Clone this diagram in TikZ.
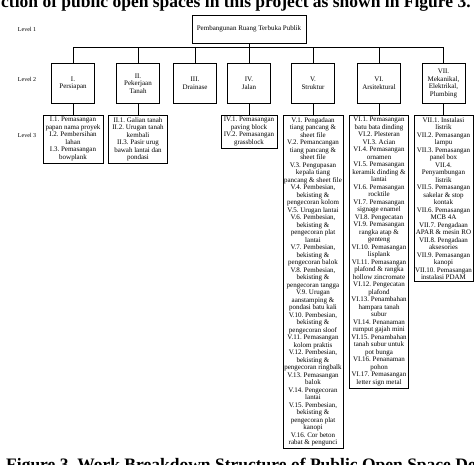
\documentclass[tikz,border=0pt]{standalone}
\usepackage{fontspec}
\setmainfont{Liberation Serif}
\frenchspacing
\begin{document}
\begin{tikzpicture}[x=1pt,y=-1pt,
  box/.style={draw, line width=0.6pt, align=center, inner xsep=1pt, inner ysep=2pt,
    font=\fontsize{7}{7.5}\selectfont\frenchspacing},
  lvtwo/.style={box, minimum width=43pt, minimum height=40pt, anchor=north},
  lvthree/.style={box, anchor=north},
  lvlabel/.style={font=\fontsize{6}{7}\selectfont},
  conn/.style={line width=0.6pt},
  bigtext/.style={font=\fontsize{17.5}{19}\selectfont\bfseries, anchor=base west, inner sep=0pt}]
\useasboundingbox (0,0) rectangle (474,465);
\clip (0,0) rectangle (474,465);
\fill[white] (0,0) rectangle (474,465);

\node[bigtext] (toptext) at (1,8) {ction of public open spaces in this project as shown in Figure 3.};
\node[bigtext] (caption) at (6,470) {Figure 3. Work Breakdown Structure of Public Open Space Development};

\node[lvlabel] (lv1) at (27,29) {Level 1};
\node[lvlabel] (lv2) at (27,79) {Level 2};
\node[lvlabel] (lv3) at (27,135) {Level 3};

\node[box, minimum width=114pt, minimum height=28pt, anchor=north] (root) at (249,15) {Pembangunan Ruang Terbuka Publik};
\coordinate (bus) at (249,47);

\node[lvtwo] (a) at (73,63) {I.\\Persiapan};
\node[lvtwo] (b) at (138,63) {II.\\Pekerjaan\\Tanah};
\node[lvtwo] (c) at (195,63) {III.\\Drainase};
\node[lvtwo] (d) at (249,63) {IV.\\Jalan};
\node[lvtwo] (e) at (313,63) {V.\\Struktur};
\node[lvtwo] (f) at (379,63) {VI.\\Arsitektural};
\node[lvtwo] (g) at (443.5,63) {VII.\\Mekanikal,\\Elektrikal,\\Plumbing};

\node[lvthree, minimum width=60pt] (a3) at (73,115) {I.1. Pemasangan\\papan nama proyek\\I.2. Pembersihan\\lahan\\I.3. Pemasangan\\bowplank};
\node[lvthree, minimum width=59pt] (b3) at (138,115) {II.1. Galian tanah\\II.2. Urugan tanah\\kembali\\II.3. Pasir urug\\bawah lantai dan\\pondasi};
\node[lvthree, minimum width=56pt] (d3) at (249,115) {IV.1. Pemasangan\\paving block\\IV.2. Pemasangan\\grassblock};
\node[lvthree, minimum width=59pt] (e3) at (313,115) {V.1. Pengadaan\\tiang pancang \&\\sheet file\\V.2. Pemancangan\\tiang pancang \&\\sheet file\\V.3. Pengupasan\\kepala tiang\\pancang \& sheet file\\V.4. Pembesian,\\bekisting \&\\pengecoran kolom\\V.5. Urugan lantai\\V.6. Pembesian,\\bekisting \&\\pengecoran plat\\lantai\\V.7. Pembesian,\\bekisting \&\\pengecoran balok\\V.8. Pembesian,\\bekisting \&\\pengecoran tangga\\V.9. Urugan\\aanstamping \&\\pondasi batu kali\\V.10. Pembesian,\\bekisting \&\\pengecoran sloof\\V.11. Pemasangan\\kolom praktis\\V.12. Pembesian,\\bekisting \&\\pengecoran ringbalk\\V.13. Pemasangan\\balok\\V.14. Pengecoran\\lantai\\V.15. Pembesian,\\bekisting \&\\pengecoran plat\\kanopi\\V.16. Cor beton\\rabat \& pengunci};
\node[lvthree, minimum width=59pt] (f3) at (379,115) {VI.1. Pemasangan\\batu bata dinding\\VI.2. Plesteran\\VI.3. Acian\\VI.4. Pemasangan\\ornamen\\VI.5. Pemasangan\\keramik dinding \&\\lantai\\VI.6. Pemasangan\\rocktile\\VI.7. Pemasangan\\signage enamel\\VI.8. Pengecatan\\VI.9. Pemasangan\\rangka atap \&\\genteng\\VI.10. Pemasangan\\lisplank\\VI.11. Pemasangan\\plafond \& rangka\\hollow zincromate\\VI.12. Pengecatan\\plafond\\VI.13. Penambahan\\hampara tanah\\subur\\VI.14. Penanaman\\rumput gajah mini\\VI.15. Penambahan\\tanah subur untuk\\pot bunga\\VI.16. Penanaman\\pohon\\VI.17. Pemasangan\\letter sign metal};
\node[lvthree, minimum width=57pt] (g3) at (443.5,115) {VII.1. Instalasi\\listrik\\VII.2. Pemasangan\\lampu\\VII.3. Pemasangan\\panel box\\VII.4.\\Penyambungan\\listrik\\VII.5. Pemasangan\\sakelar \& stop\\kontak\\VII.6. Pemasangan\\MCB 4A\\VII.7. Pengadaan\\APAR \& mesin RO\\VII.8. Pengadaan\\aksesories\\VII.9. Pemasangan\\kanopi\\VII.10. Pemasangan\\instalasi PDAM};

\draw[conn] (root.south) -- (bus);
\draw[conn] (a.north |- bus) -- (g.north |- bus);
\foreach \n in {a,b,c,d,e,f,g}{
  \draw[conn] (\n.north) -- (\n.north |- bus);
}
\draw[conn] (a.south) -- (a3.north);
\draw[conn] (b.south) -- (b3.north);
\draw[conn] (d.south) -- (d3.north);
\draw[conn] (e.south) -- (e3.north);
\draw[conn] (f.south) -- (f3.north);
\draw[conn] (g.south) -- (g3.north);
\end{tikzpicture}
\end{document}
